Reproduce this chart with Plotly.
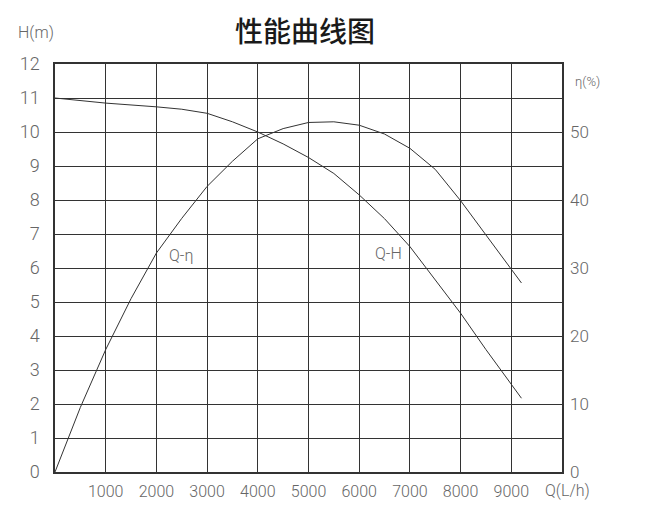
import plotly.graph_objects as go

# Flow (L/h) and head (m) for the Q-H curve
q_h = [0, 1000, 2000, 2500, 3000, 3500, 4000, 4500, 5000, 5500, 6000, 6500, 7000, 7500, 8000, 8500, 9000, 9200]
head = [11.0, 10.85, 10.74, 10.67, 10.55, 10.3, 10.0, 9.65, 9.25, 8.78, 8.15, 7.45, 6.63, 5.65, 4.67, 3.6, 2.56, 2.17]

# Flow (L/h) and efficiency (%) for the Q-eta curve
q_eta = [0, 500, 1000, 1500, 2000, 2500, 3000, 3500, 4000, 4500, 5000, 5500, 6000, 6500, 7000, 7500, 8000, 8500, 9000, 9200]
eta = [0, 9.5, 18.0, 25.5, 32.2, 37.3, 42.0, 45.7, 49.0, 50.5, 51.4, 51.5, 51.0, 49.7, 47.6, 44.5, 39.9, 34.9, 29.9, 27.8]

x_ticks = [1000, 2000, 3000, 4000, 5000, 6000, 7000, 8000, 9000]
x_labels = ["1000", "2000", "3000", "4000", "5000", "6000", "7000", "8000", "9000"]
h_ticks = list(range(0, 13))
eta_ticks = [0, 10, 20, 30, 40, 50]

title_text = "性能曲线图"

FONT = "Roboto"
LINE = "#333333"
TXT = "#666666"


def f(size, color=TXT):
    return dict(family=FONT, size=size, color=color, weight=300)


fig = go.Figure()
fig.add_trace(go.Scatter(x=q_h, y=head, mode="lines", line=dict(color=LINE, width=1),
                         showlegend=False, hoverinfo="skip"))
fig.add_trace(go.Scatter(x=q_eta, y=eta, mode="lines", line=dict(color=LINE, width=1),
                         yaxis="y2", showlegend=False, hoverinfo="skip"))

fig.update_layout(
    width=650, height=510,
    margin=dict(l=47, r=96, t=56, b=46),
    paper_bgcolor="white", plot_bgcolor="white",
    font=f(17),
    xaxis=dict(range=[0, 10000], tickvals=x_ticks, ticktext=x_labels, automargin=False,
               showgrid=True, gridcolor=LINE, gridwidth=1.3,
               showline=True, linecolor=LINE, linewidth=1.5, mirror=True,
               zeroline=False, ticks="", ticklabelstandoff=4, tickfont=f(16)),
    yaxis=dict(range=[0, 12], tickvals=h_ticks, automargin=False,
               showgrid=True, gridcolor=LINE, gridwidth=1.3,
               showline=True, linecolor=LINE, linewidth=1.5, mirror=True,
               zeroline=False, ticks="", ticklabelstandoff=10, tickfont=f(18)),
    yaxis2=dict(range=[0, 60], tickvals=eta_ticks, overlaying="y", side="right", automargin=False,
                showgrid=False, zeroline=False, showline=False, ticks="",
                ticklabelstandoff=7, tickfont=f(17)),
    annotations=[
        dict(text=title_text, xref="paper", yref="paper", x=0.494, y=1.084,
             showarrow=False, xanchor="center", yanchor="middle",
             font=dict(family="Noto Sans CJK SC", size=28, color="#1a1a1a", weight=500)),
        dict(text="H(m)", xref="paper", yref="paper", x=-0.0375, y=1.078,
             showarrow=False, xanchor="center", yanchor="middle", font=f(16)),
        dict(text="η(%)", xref="paper", yref="paper", x=1.05, y=0.958,
             showarrow=False, xanchor="center", yanchor="middle", font=f(13)),
        dict(text="Q(L/h)", xref="paper", yref="paper", x=1.01, y=-0.045,
             showarrow=False, xanchor="center", yanchor="middle", font=f(16)),
        dict(text="Q-η", x=2485, y=6.38, xref="x", yref="y",
             showarrow=False, xanchor="center", yanchor="middle", font=f(16)),
        dict(text="Q-H", x=6568, y=6.44, xref="x", yref="y",
             showarrow=False, xanchor="center", yanchor="middle", font=f(16)),
    ],
)

fig.write_html("out.html")
